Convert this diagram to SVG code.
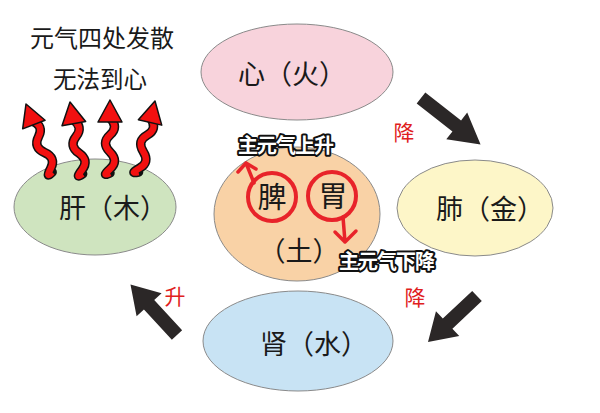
<svg xmlns="http://www.w3.org/2000/svg" width="600" height="413" viewBox="0 0 600 413">
<style>
text{font-family:"Noto Sans CJK SC","Noto Sans",sans-serif;fill:#1a1a1a}
.organ{stroke:#8a8a8a;stroke-width:1}
.big{font-size:27px;text-anchor:middle}
.red{fill:#e02020;font-size:21px;text-anchor:middle}
.out{font-size:20px;font-weight:bold;fill:#fff;stroke:#111;stroke-width:4;paint-order:stroke;stroke-linejoin:round;letter-spacing:-1px}
.blk{fill:#2b2727}
.ring{fill:none;stroke:#e8232a;stroke-width:4}
.rline{fill:none;stroke:#e8232a;stroke-width:3.5;stroke-linecap:round;stroke-linejoin:round}
</style>
<defs>
<polygon id="bigArrow" points="0,-7 42,-7 42,-17 70,0 42,17 42,7 0,7"/>
<g id="wave">
<path d="M0,18 q9,9 0,17 t0,17 t0,17 t0,4" fill="none" stroke="#111" stroke-width="9.5" stroke-linecap="round"/>
<path d="M0,18 q9,9 0,17 t0,17 t0,17 t0,4" fill="none" stroke="#f21010" stroke-width="6.5"/>
<polygon points="0,0 -12,22 12,22" fill="#f21010" stroke="#111" stroke-width="1.5" stroke-linejoin="round"/>
</g>
</defs>

<text x="102" y="47" style="font-size:24px;text-anchor:middle">元气四处发散</text>
<text x="100" y="88" style="font-size:23.5px;text-anchor:middle">无法到心</text>

<g id="heart"><ellipse class="organ" cx="297" cy="72" rx="96" ry="48" fill="#f8d3dc"/><text class="big" x="292" y="84">心（火）</text></g>
<g id="liver"><ellipse class="organ" cx="95" cy="207" rx="81" ry="48" fill="#cfe4bf"/><text class="big" x="113" y="218">肝（木）</text></g>
<g id="metal"><ellipse class="organ" cx="475" cy="208" rx="78" ry="48" fill="#fdf6c8"/><text class="big" x="490" y="219">肺（金）</text></g>
<g id="water"><ellipse class="organ" cx="298" cy="341" rx="95" ry="50" fill="#c8e3f4"/><text class="big" x="314" y="354">肾（水）</text></g>
<g id="earth"><ellipse class="organ" cx="297" cy="214" rx="83" ry="67" fill="#f9d2a6"/>
<circle class="ring" cx="272" cy="197" r="24"/><circle class="ring" cx="332" cy="196" r="24"/>
<text x="272" y="208" style="font-size:29px;text-anchor:middle">脾</text>
<text x="333" y="207" style="font-size:29px;text-anchor:middle">胃</text>
<text x="299" y="261" style="font-size:27px;text-anchor:middle">（土）</text>
</g>

<g id="connectors">
<path class="rline" d="M254,183 L246,163 M238,172 L246,163 L256,169"/>
<path class="rline" d="M343,217 L345,242 M335,232 L345,242 L356,231"/>
<text class="out" x="238" y="153">主元气上升</text>
<text class="out" x="339" y="269">主元气下降</text>
<use href="#bigArrow" class="blk" transform="translate(421,98) rotate(38) scale(1.08,1)"/>
<use href="#bigArrow" class="blk" transform="translate(477,296) rotate(136.8) scale(0.96,1)"/>
<use href="#bigArrow" class="blk" transform="translate(177,335) rotate(-132.7) scale(0.98,1)"/>
<text class="red" x="404" y="140">降</text>
<text class="red" x="415" y="305">降</text>
<text class="red" x="175" y="304">升</text>
<use href="#wave" transform="translate(26,104) rotate(-21)"/>
<use href="#wave" transform="translate(70,102) rotate(-10)"/>
<use href="#wave" transform="translate(110,100)"/>
<use href="#wave" transform="translate(155,101) rotate(13)"/>
</g>
</svg>
